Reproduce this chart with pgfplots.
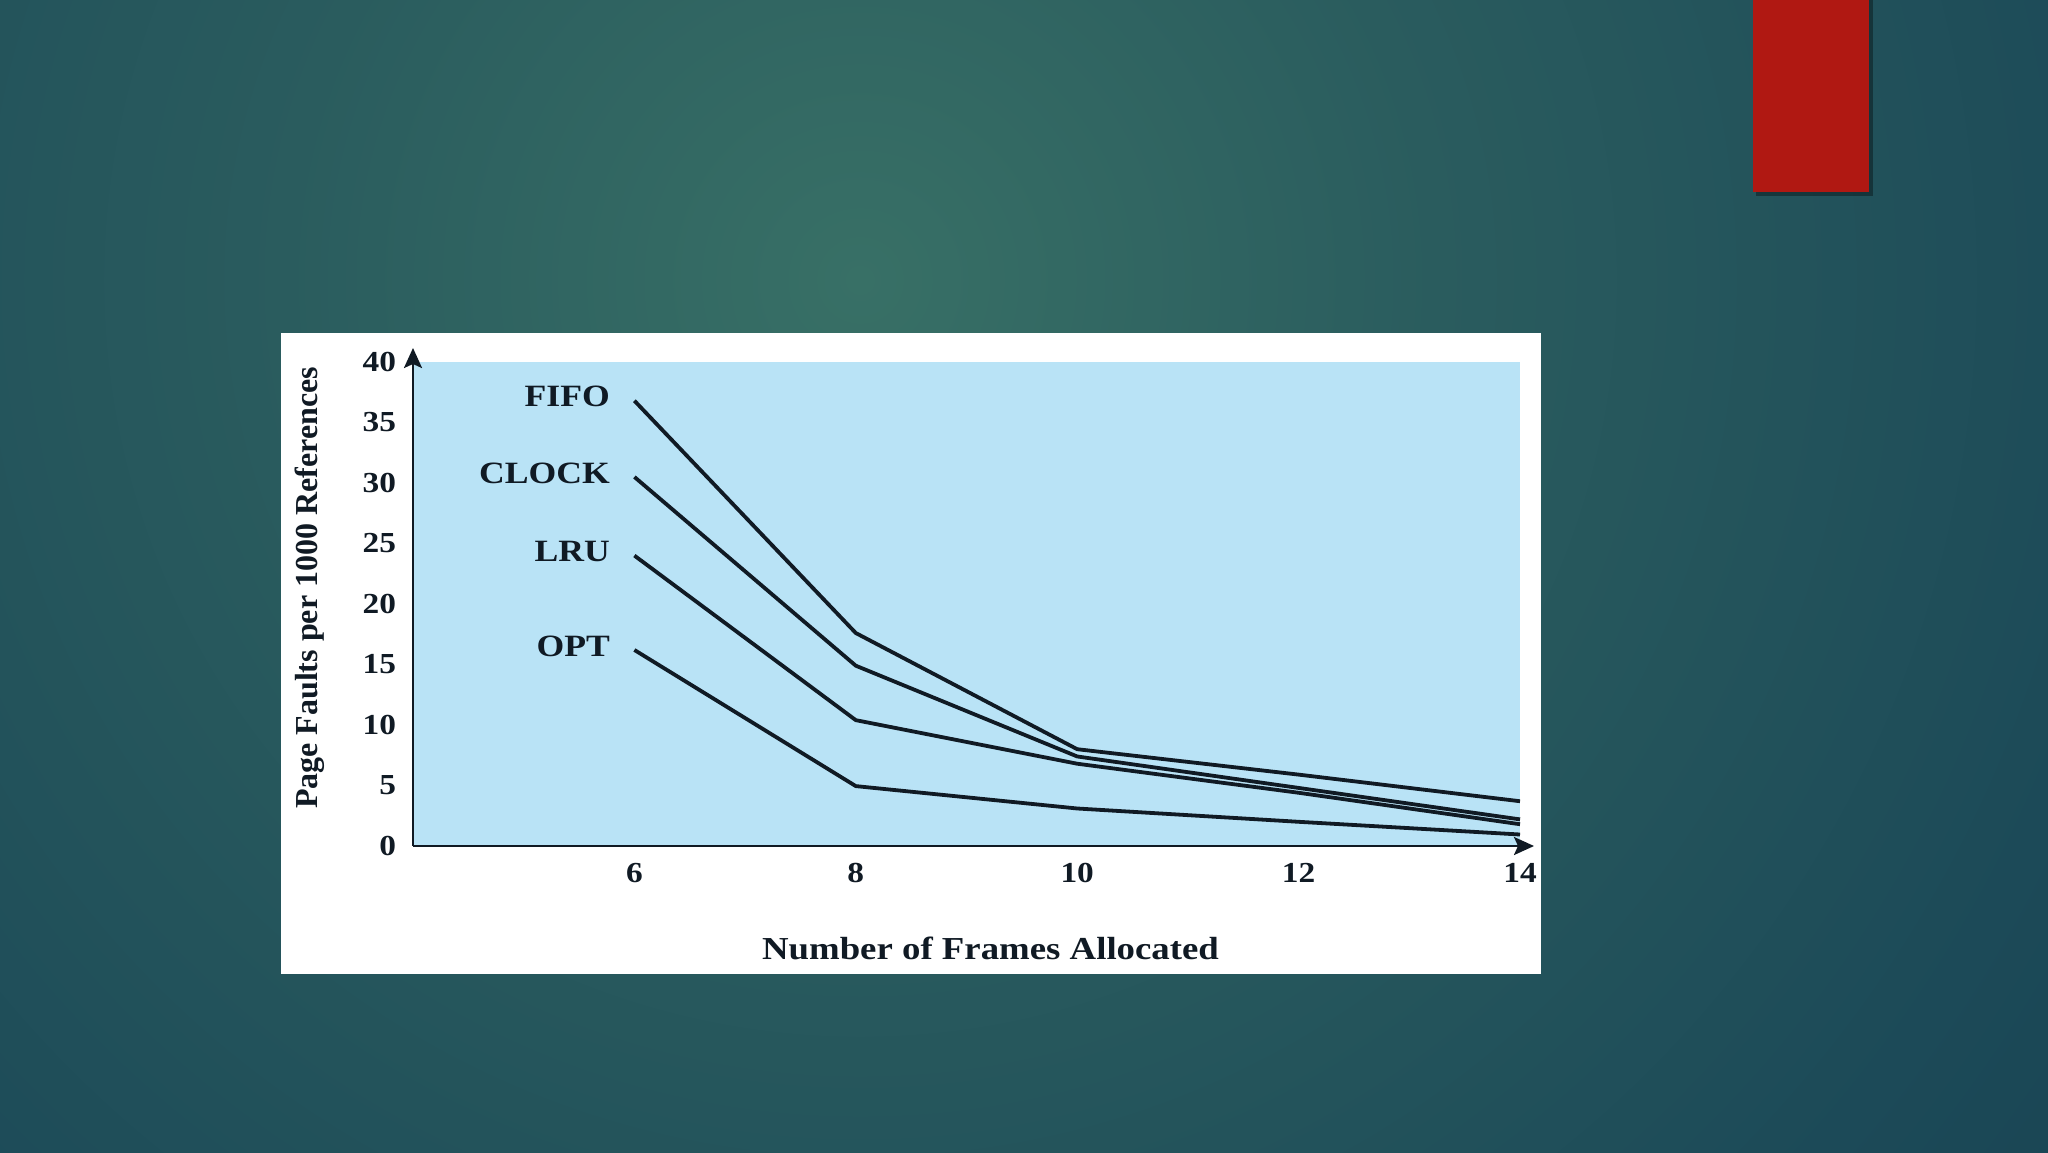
\documentclass[border=0pt]{standalone}
\usepackage{fontspec}
\setmainfont{Liberation Serif}
\newfontfamily\wideserif{Liberation Serif}[FakeStretch=1.15]
\usepackage{pgfplots}
\pgfplotsset{compat=1.18}
\usetikzlibrary{arrows.meta}
\definecolor{bginner}{RGB}{56,112,102}
\definecolor{bgmid}{RGB}{42,92,94}
\definecolor{bgouter}{RGB}{28,74,88}
\definecolor{bgdark}{RGB}{19,54,70}
\definecolor{redbar}{RGB}{176,24,18}
\definecolor{plotblue}{RGB}{185,227,246}
\definecolor{ink}{RGB}{16,26,36}
\pgfdeclareradialshading{bgshade}{\pgfpoint{0bp}{0bp}}{color(0bp)=(bginner); color(8bp)=(bgmid); color(18bp)=(bgouter); color(32bp)=(bgdark); color(50bp)=(bgdark)}
\tikzset{curvelabel/.style={pos=0, anchor=east, xshift=-8pt, yshift=2pt, text=ink,
    font=\wideserif\bfseries\fontsize{15.5}{15.5}\selectfont},
  curve/.style={ink, line width=1.9pt, mark=none}}
\begin{document}
\begin{tikzpicture}
\begin{scope}
\clip (0,0) rectangle (1024pt,576pt);
\fill[bgdark] (0,0) rectangle (1024pt,576pt);
\shade[shading=bgshade] (430pt,436pt) circle (900pt);
\end{scope}
\fill[black,opacity=0.35] (878pt,478pt) rectangle (936.5pt,576pt);
\fill[redbar] (876.5pt,480pt) rectangle (934.5pt,576pt);
\fill[white] (140.5pt,89pt) rectangle (770.5pt,409.5pt);
\begin{axis}[
  at={(206.5pt,153pt)}, anchor=south west,
  scale only axis, width=553.5pt, height=242pt,
  xmin=4, xmax=14, ymin=0, ymax=40,
  axis lines=left,
  axis line style={ink, line width=1.3pt, -{Stealth[length=10pt,width=9pt,inset=2pt]}, shorten >=-7pt},
  axis background/.style={fill=plotblue},
  xtick={6,8,10,12,14}, ytick={0,5,10,15,20,25,30,35,40},
  major tick length=0pt,
  /pgf/number format/assume math mode=true,
  tick label style={font=\wideserif\bfseries\fontsize{14.5}{14.5}\selectfont, text=ink},
  xticklabel style={yshift=-5pt},
  yticklabel style={xshift=-5pt},
  xlabel={Number of Frames Allocated},
  xlabel style={font=\wideserif\bfseries\fontsize{16}{16}\selectfont, text=ink,
    at={([xshift=12pt,yshift=-51pt]axis description cs:0.5,0)}, anchor=center},
  ylabel={Page Faults per 1000 References},
  ylabel style={font=\bfseries\fontsize{16}{16}\selectfont, text=ink,
    at={([xshift=-51.5pt,yshift=8pt]axis description cs:0,0.5)}, anchor=center},
  clip=false,
]
\addplot[curve] coordinates {(6,36.8) (8,17.6) (10,8.0) (12,5.9) (14,3.7)} node[curvelabel] {FIFO};
\addplot[curve] coordinates {(6,30.5) (8,14.9) (10,7.4) (12,4.8) (14,2.2)} node[curvelabel] {CLOCK};
\addplot[curve] coordinates {(6,24.0) (8,10.4) (10,6.8) (12,4.4) (14,1.8)} node[curvelabel] {LRU};
\addplot[curve] coordinates {(6,16.2) (8,4.95) (10,3.1) (12,2.0) (14,0.95)} node[curvelabel] {OPT};
\end{axis}
\end{tikzpicture}
\end{document}
